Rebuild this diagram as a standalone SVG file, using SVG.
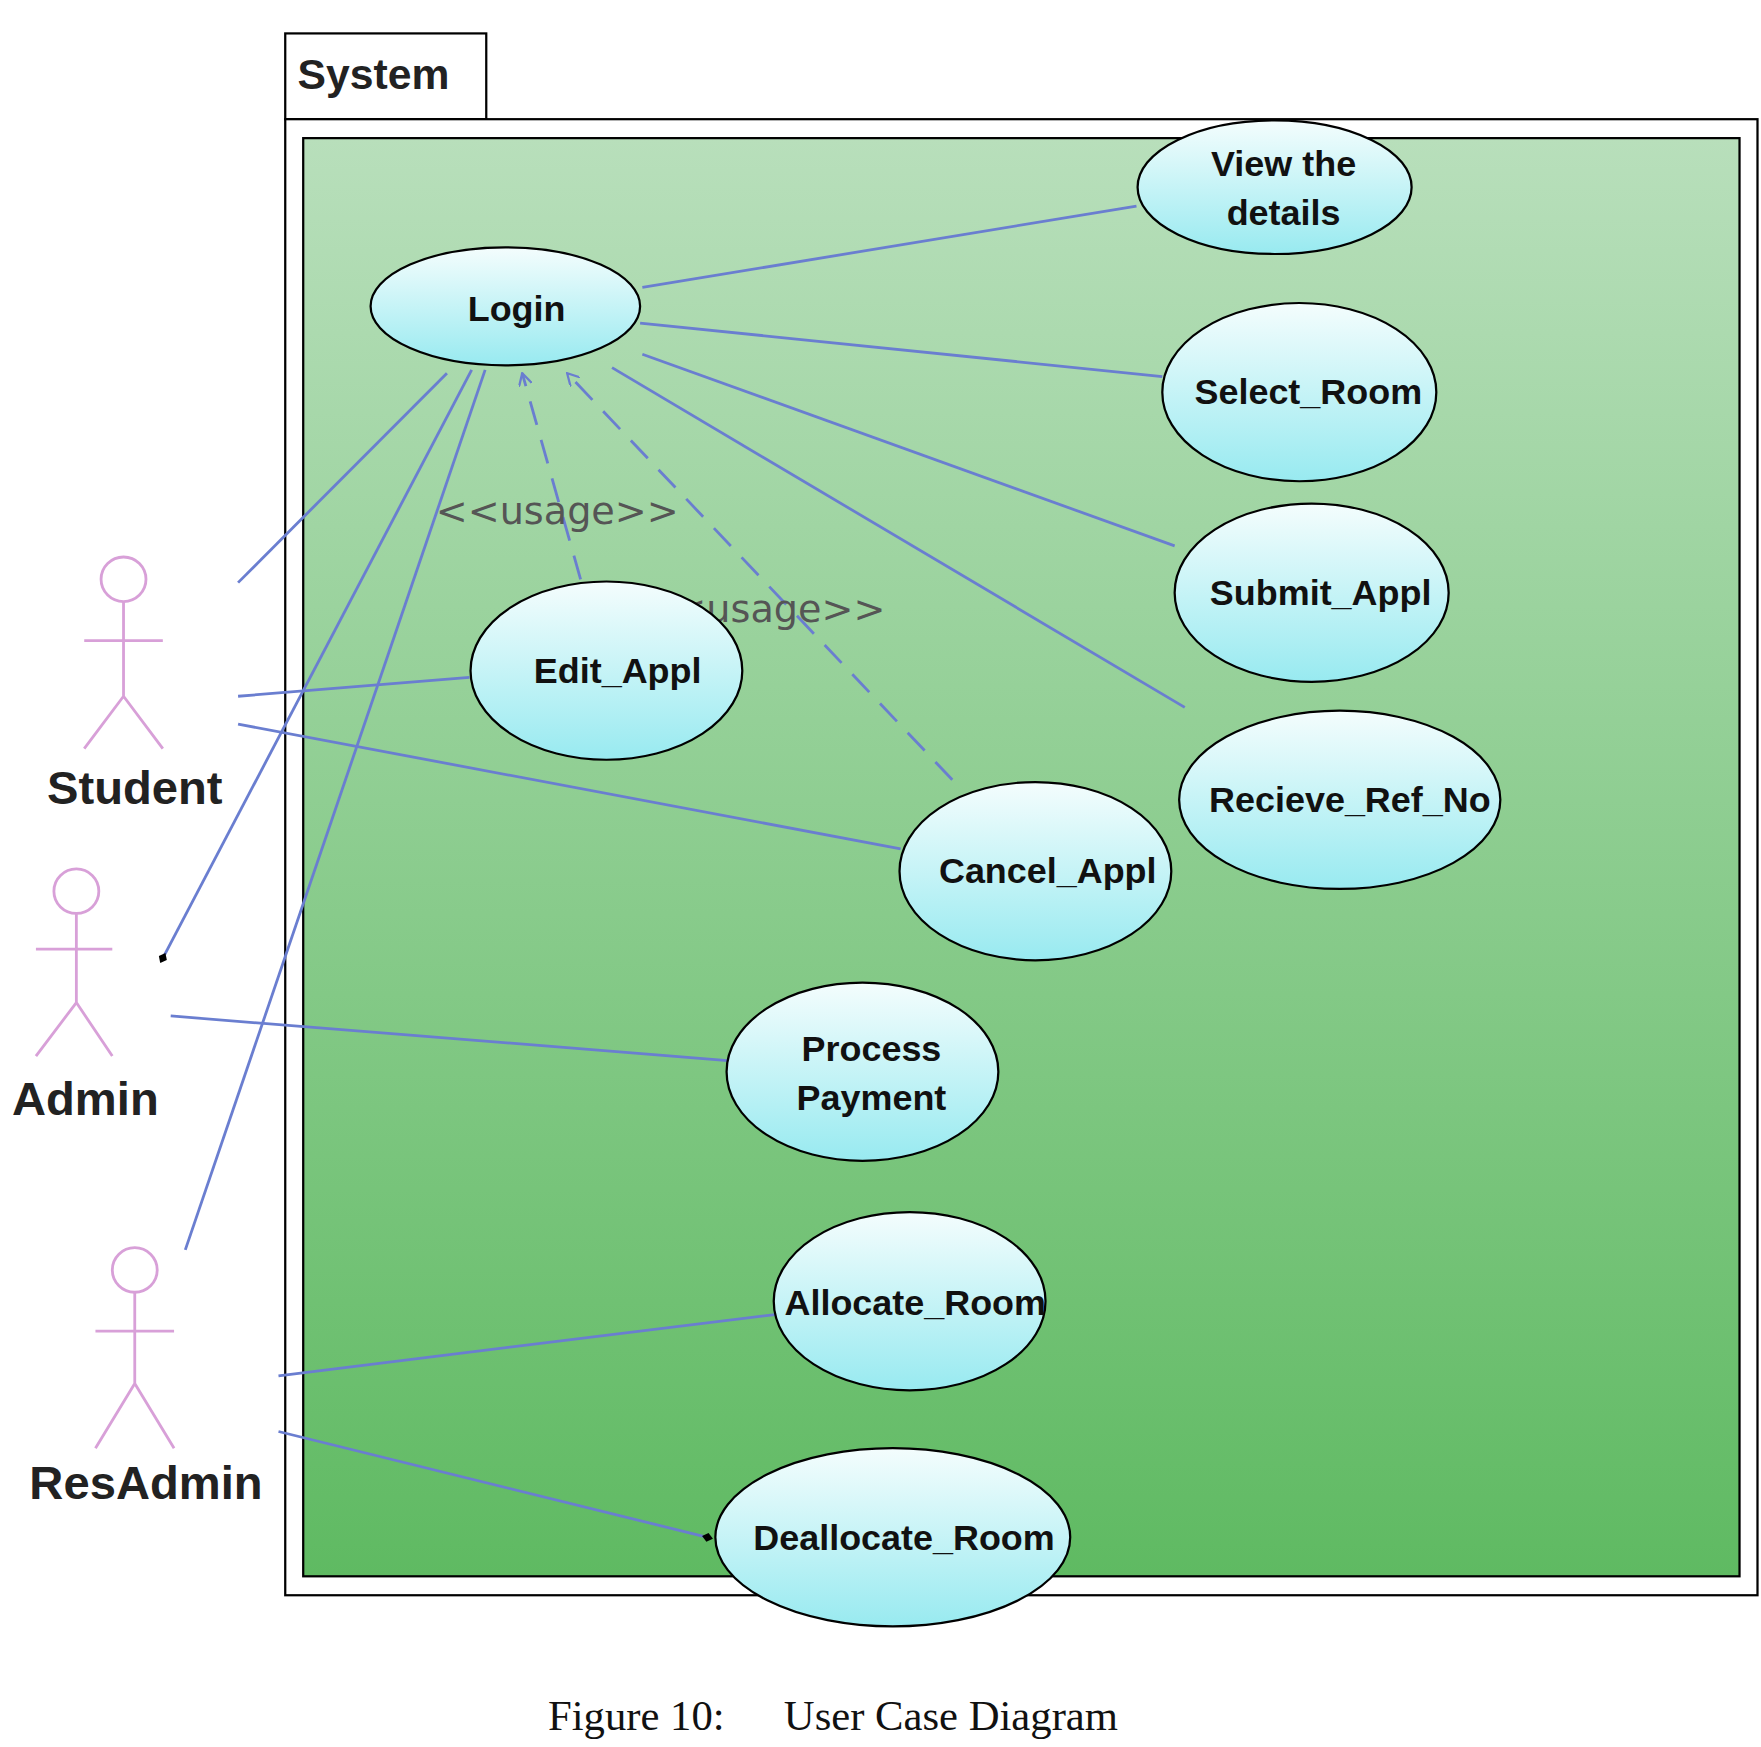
<svg xmlns="http://www.w3.org/2000/svg" width="1761" height="1747" viewBox="0 0 1761 1747">
<defs>
<linearGradient id="bg" x1="0" y1="0" x2="0" y2="1"><stop offset="0" stop-color="#b8dfbb"/><stop offset="1" stop-color="#5fba62"/></linearGradient>
<linearGradient id="uc" x1="0" y1="0" x2="0" y2="1"><stop offset="0" stop-color="#f4fdfd"/><stop offset="1" stop-color="#98eaf0"/></linearGradient>
<marker id="arr" viewBox="0 0 12 12" refX="11" refY="6" markerWidth="12" markerHeight="12" orient="auto" markerUnits="userSpaceOnUse"><path d="M0,0 L11,6 L0,12" fill="none" stroke="#6a7ed0" stroke-width="2"/></marker>
<marker id="dot" viewBox="0 0 10 10" refX="5" refY="5" markerWidth="10" markerHeight="10" orient="auto" markerUnits="userSpaceOnUse"><path d="M0,5 L5,1 L10,5 L5,9Z" fill="#000"/></marker>
</defs>
<style>
.uc{fill:url(#uc);stroke:#000;stroke-width:2}
.ut{font-family:"Liberation Sans",Arial,sans-serif;font-weight:bold;font-size:32px;fill:#111;text-anchor:middle}
.act{stroke:#d8a0d8;stroke-width:2.5;fill:none}
.at{font-family:"Liberation Sans",Arial,sans-serif;font-weight:bold;font-size:42px;fill:#222;text-anchor:middle}
.ln{stroke:#6a7ed0;stroke-width:2.5;fill:none}
.ds{stroke:#6a7ed0;stroke-width:2.5;fill:none;stroke-dasharray:22,14}
.us{font-family:"DejaVu Sans",sans-serif;font-size:34px;fill:#555}
</style>
<rect width="1761" height="1747" fill="#fff"/>
<g transform="scale(1.123,1.114)">
<g id="system">
<rect x="254" y="30" width="179" height="77" fill="#fff" stroke="#000" stroke-width="2"/>
<text x="265" y="80" font-family="Liberation Sans,Arial,sans-serif" font-weight="bold" font-size="38" fill="#222">System</text>
<rect x="254" y="107" width="1311" height="1325" fill="#fff" stroke="#000" stroke-width="2"/>
<rect x="270" y="124" width="1279" height="1291" fill="url(#bg)" stroke="#000" stroke-width="2"/>
</g>
<g id="connectors">
<line class="ln" x1="212" y1="523" x2="398" y2="335"/>
<line class="ln" x1="145" y1="860" x2="420" y2="332" marker-start="url(#dot)"/>
<line class="ln" x1="165" y1="1122" x2="432" y2="332"/>
<line class="ln" x1="212" y1="625" x2="418" y2="608"/>
<line class="ln" x1="212" y1="650" x2="802" y2="762"/>
<line class="ln" x1="152" y1="912" x2="648" y2="952"/>
<line class="ln" x1="248" y1="1235" x2="690" y2="1180"/>
<line class="ln" x1="248" y1="1285" x2="630" y2="1380" marker-end="url(#dot)"/>
<line class="ln" x1="572" y1="258" x2="1012" y2="185"/>
<line class="ln" x1="570" y1="290" x2="1035" y2="338"/>
<line class="ln" x1="572" y1="318" x2="1046" y2="490"/>
<line class="ln" x1="545" y1="330" x2="1055" y2="635"/>
<line class="ds" x1="517" y1="520" x2="465" y2="335" marker-end="url(#arr)"/>
<line class="ds" x1="848" y1="700" x2="505" y2="335" marker-end="url(#arr)"/>
<text class="us" x="388" y="470">&lt;&lt;usage&gt;&gt;</text>
<text class="us" x="572" y="558">&lt;&lt;usage&gt;&gt;</text>
</g>
<g id="login"><ellipse class="uc" cx="450" cy="275" rx="120" ry="53"/><text class="ut" x="460" y="288">Login</text></g>
<g id="view"><ellipse class="uc" cx="1135" cy="168" rx="122" ry="60"/><text class="ut" x="1143" y="158">View the</text><text class="ut" x="1143" y="202">details</text></g>
<g id="select"><ellipse class="uc" cx="1157" cy="352" rx="122" ry="80"/><text class="ut" x="1165" y="363">Select_Room</text></g>
<g id="submit"><ellipse class="uc" cx="1168" cy="532" rx="122" ry="80"/><text class="ut" x="1176" y="543">Submit_Appl</text></g>
<g id="recieve"><ellipse class="uc" cx="1193" cy="718" rx="143" ry="80"/><text class="ut" x="1202" y="729">Recieve_Ref_No</text></g>
<g id="edit"><ellipse class="uc" cx="540" cy="602" rx="121" ry="80"/><text class="ut" x="550" y="613">Edit_Appl</text></g>
<g id="cancel"><ellipse class="uc" cx="922" cy="782" rx="121" ry="80"/><text class="ut" x="933" y="793">Cancel_Appl</text></g>
<g id="payment"><ellipse class="uc" cx="768" cy="962" rx="121" ry="80"/><text class="ut" x="776" y="952">Process</text><text class="ut" x="776" y="996">Payment</text></g>
<g id="allocate"><ellipse class="uc" cx="810" cy="1168" rx="121" ry="80"/><text class="ut" x="815" y="1180">Allocate_Room</text></g>
<g id="deallocate"><ellipse class="uc" cx="795" cy="1380" rx="158" ry="80"/><text class="ut" x="805" y="1391">Deallocate_Room</text></g>
<g id="student"><circle class="act" cx="110" cy="520" r="20"/><path class="act" d="M110,540 V625 M75,575 H145 M110,625 L75,672 M110,625 L145,672"/><text class="at" x="120" y="722">Student</text></g>
<g id="admin"><circle class="act" cx="68" cy="800" r="20"/><path class="act" d="M68,820 V900 M32,852 H100 M68,900 L32,948 M68,900 L100,948"/><text class="at" x="76" y="1001">Admin</text></g>
<g id="resadmin"><circle class="act" cx="120" cy="1140" r="20"/><path class="act" d="M120,1160 V1242 M85,1195 H155 M120,1242 L85,1300 M120,1242 L155,1300"/><text class="at" x="130" y="1346">ResAdmin</text></g>
<text x="488" y="1553" font-family="Liberation Serif,serif" font-size="38" fill="#111">Figure 10:</text>
<text x="698" y="1553" font-family="Liberation Serif,serif" font-size="38" fill="#111">User Case Diagram</text>
</g>
</svg>
